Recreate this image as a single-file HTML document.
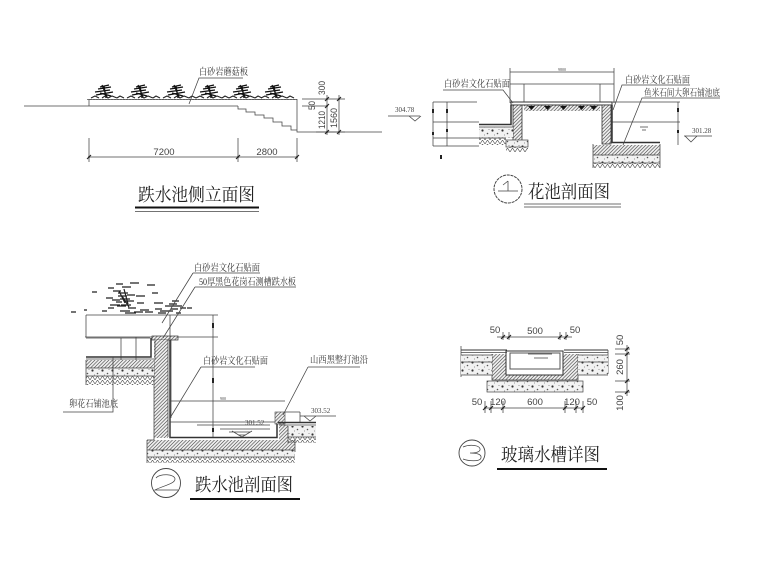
<!DOCTYPE html>
<html><head><meta charset="utf-8"><style>
html,body{margin:0;padding:0;background:#fff;width:760px;height:570px;overflow:hidden}
svg{display:block}
text{fill:#333;font-family:"Liberation Sans","Noto Sans CJK SC",sans-serif}
.l{font-family:"Liberation Serif","Noto Serif CJK SC",serif;font-size:9.5px;fill:#333}
.t{font-family:"Liberation Serif","Noto Serif CJK SC",serif;font-size:18px;fill:#222}
.d{font-size:9.5px;fill:#444}
.e{font-family:"Liberation Serif",serif;font-size:7px;fill:#444}
.g{fill:none;stroke:#444;stroke-width:.75}
.b{fill:none;stroke:#333;stroke-width:1.5}
</style></head><body>
<svg width="760" height="570" viewBox="0 0 760 570" xmlns="http://www.w3.org/2000/svg">
<defs>
<pattern id="h" width="3.5" height="3.5" patternUnits="userSpaceOnUse"><rect width="3.5" height="3.5" fill="#eee"/><path d="M-1 4.5L4.5-1M-1 1L1-1M2.5 4.5L4.5 2.5" stroke="#555" stroke-width=".65"/></pattern>
<pattern id="x" width="5" height="4" patternUnits="userSpaceOnUse"><path d="M0 4L2.5 0L5 4" fill="none" stroke="#555" stroke-width=".65"/></pattern>
<pattern id="c" width="10" height="8" patternUnits="userSpaceOnUse"><rect width="10" height="8" fill="#f2f2f2"/><circle cx="2.5" cy="2.5" r="1.1" fill="#333"/><circle cx="7.5" cy="5.5" r=".8" fill="#555"/><circle cx="9" cy="1.5" r=".5" fill="#777"/><circle cx="4.5" cy="7" r=".5" fill="#777"/></pattern>
<g id="p"><path d="M-7 -4L6 -6M-10 -1L5 -3M-5 -6L4 -8M-9 2L8 -1M-3 -8L2 4M-1 -7L1 5M-5 0L6 3" stroke="#111" stroke-width="1.3" fill="none"/><path d="M-14 5L-10 3L-6 5M3 5L7 3L12 5M12 5L15 3L19 5M-3 5L0 3L3 5" stroke="#222" stroke-width="1.1" fill="none"/><path d="M-18 6.5H22" stroke="#555" stroke-width=".7" stroke-dasharray="2 1"/></g>
<g id="k"><path d="M-2 2L2-2" stroke="#222" stroke-width="1.1"/><circle r=".9" fill="#222"/></g>
</defs>

<!-- side elevation -->
<path class="g" d="M24 106H238M89 99V106M89 99.5H297M297 99V132H382"/>
<path class="g" d="M238 106V109H246V112H255V115H264V118H273V122H282V126H291V130H297"/>
<use href="#p" x="105" y="93"/><use href="#p" x="141" y="93"/><use href="#p" x="177" y="93"/><use href="#p" x="210" y="93"/><use href="#p" x="243" y="93"/><use href="#p" x="275" y="93"/>
<path class="g" d="M189 104L199 78H243"/>
<text class="l" x="199" y="75" textLength="49" lengthAdjust="spacingAndGlyphs">白砂岩蘑菇板</text>
<path class="g" d="M89 138V162M238 138V162M297 138V162M89 157H297M302 99H345M302 106H327M327 95V135M339 95V135M316 132H345"/>
<use href="#k" x="89" y="157"/><use href="#k" x="238" y="157"/><use href="#k" x="297" y="157"/><use href="#k" x="327" y="99"/><use href="#k" x="327" y="106"/><use href="#k" x="327" y="132"/><use href="#k" x="339" y="99"/><use href="#k" x="339" y="132"/>
<text class="d" x="164" y="155" text-anchor="middle" font-size="10">7200</text><text class="d" x="267" y="155" text-anchor="middle" font-size="10">2800</text>
<text class="d" transform="translate(325,95) rotate(-90)" textLength="14" lengthAdjust="spacingAndGlyphs">300</text><text class="d" transform="translate(315,110) rotate(-90)" textLength="9" lengthAdjust="spacingAndGlyphs">50</text><text class="d" transform="translate(325,129) rotate(-90)" textLength="18" lengthAdjust="spacingAndGlyphs">1210</text><text class="d" transform="translate(337,128) rotate(-90)" textLength="20" lengthAdjust="spacingAndGlyphs">1560</text>
<text class="t" x="138" y="201" textLength="117" lengthAdjust="spacingAndGlyphs">跌水池侧立面图</text>
<path d="M135 207.5H259" stroke="#111" stroke-width="2"/><path d="M135 211.5H259" stroke="#444" stroke-width=".7"/>

<!-- flower pool section -->
<path class="g" d="M510 72H614M510 68V103M614 68V103M510 84H614M524 84V103M600 84V103"/>
<text x="562" y="71" class="e" text-anchor="middle" style="font-size:4px">9800</text>
<rect x="524" y="105" width="76" height="6" fill="url(#h)"/>
<path d="M528 106h7l-3.5 4zM544 106h7l-3.5 4zM560 106h7l-3.5 4zM578 106h7l-3.5 4zM590 106h7l-3.5 4z" fill="#111"/>
<rect x="511" y="102" width="101" height="3" fill="#fff" stroke="#333" stroke-width="1"/>
<rect x="513" y="105" width="9" height="36" fill="url(#h)" stroke="#333" stroke-width=".8"/>
<rect x="602" y="105" width="9" height="39" fill="url(#h)" stroke="#333" stroke-width=".8"/>
<rect x="506" y="140" width="22" height="7" fill="url(#c)" stroke="#444" stroke-width=".7"/>
<rect x="506" y="147" width="22" height="5" fill="url(#x)"/>
<path class="b" d="M479 124.5H511V105"/>
<rect x="479" y="127" width="34" height="11" fill="url(#c)"/><path class="g" d="M479 127H513M479 138H506"/>
<rect x="479" y="138" width="27" height="7" fill="url(#x)"/>
<path class="g" d="M433 102H477M433 122H479M433 138H479M433 146H479M433 102V146M447 102V146"/>
<rect x="432" y="109" width="2" height="4" fill="#222"/><rect x="446" y="109" width="2" height="4" fill="#222"/><rect x="432" y="132" width="2" height="3" fill="#222"/><rect x="446" y="129" width="2" height="3" fill="#222"/><rect x="440" y="155" width="2" height="4" fill="#222"/>
<path class="g" d="M388 116H420M409 116L415 121L421 116"/><text class="e" x="395" y="112">304.78</text>
<path class="g" d="M612 122H660M612 102H680M660 122H680M678 102V145M640 127H648M642 130H646"/>
<path class="b" d="M612 105V142.5H660"/>
<rect x="593" y="145" width="67" height="10" fill="url(#h)"/><rect x="593" y="155" width="67" height="8" fill="url(#c)"/><rect x="593" y="163" width="67" height="5" fill="url(#x)"/>
<path class="g" d="M593 144V168M660 144V168M593 155H660M593 163H660"/>
<rect x="677" y="108" width="2" height="4" fill="#222"/><rect x="677" y="130" width="2" height="3" fill="#222"/>
<path class="g" d="M684 136H712M685 136L691 142L697 136"/><text class="e" x="692" y="133">301.28</text>
<path class="g" d="M443 90H503L513 103"/><text class="l" x="444" y="87" textLength="66" lengthAdjust="spacingAndGlyphs">白砂岩文化石贴面</text>
<path class="g" d="M690 85H622L613 110"/><text class="l" x="625" y="83" textLength="65" lengthAdjust="spacingAndGlyphs">白砂岩文化石贴面</text>
<path class="g" d="M720 98H642L623 145"/><text class="l" x="644" y="96" textLength="76" lengthAdjust="spacingAndGlyphs">鱼米石间大卵石铺池底</text>
<circle cx="508" cy="189" r="14" fill="none" stroke="#444" stroke-dasharray="3 .8"/><path class="g" d="M498 191H518M508 181V191M508 181L503 185"/>
<text class="t" x="528" y="198" textLength="82" lengthAdjust="spacingAndGlyphs">花池剖面图</text>
<path class="g" d="M524 204H621M524 207H621"/>

<!-- pool section -->
<g stroke="#222" stroke-width="1.2" fill="none"><path d="M92 292h5M113 291h8M116 284h7M122 287h9M130 283h9M108 288h6M118 296h9M106 298h7M125 301h9M136 296h9M110 305h10M121 305h10M137 303h7M147 285h8M152 293h6M140 310h9M120 311h10M102 311h5M108 308h6M71 312h5M84 310h3M155 309h7M160 311h10M154 303h9M165 306h9M171 309h7M172 301h7M176 313h5M187 308h5M116 302h6M128 308h8M122 296l7 11M124 289l4 15M119 291l6 12M112 300h8M118 293h10M127 295h8M120 299h10M117 306h9M125 313h11M134 312h9M145 312h8M164 311h9M158 313h8M169 304h8M180 308h6M174 306h8"/></g>
<path class="g" d="M86 315H218M86 315V337M85 337H218M86 338H150M121 338V361M136 337V361"/>
<path class="b" d="M86 357H151V338"/>
<rect x="152" y="336" width="26" height="4" fill="url(#h)" stroke="#333" stroke-width=".7"/>
<path class="g" d="M170 315V340M171 340V418"/>
<rect x="154" y="340" width="14" height="98" fill="url(#h)"/><path class="g" d="M168 340V437M155 340V360M154 360V440"/>
<rect x="86" y="360" width="68" height="8" fill="url(#h)"/><rect x="86" y="368" width="68" height="8" fill="url(#c)"/><rect x="86" y="376" width="68" height="9" fill="url(#x)"/>
<path class="g" d="M86 359H154M86 368H154M86 376H154M86 385V360"/>
<path class="b" d="M170 340V437.5H277V420"/>
<path class="g" d="M170 401H285M170 422H277M170 367V438M213 315V437M197 425H270M220 429H270M229 432H250M238 435H246M232 431L242 437L252 431"/>
<rect x="212" y="323" width="2" height="5" fill="#222"/><rect x="212" y="378" width="2" height="5" fill="#222"/><rect x="212" y="428" width="2" height="4" fill="#222"/>
<rect x="275" y="412" width="10" height="12" fill="url(#h)" stroke="#444" stroke-width=".6"/>
<rect x="147" y="440" width="148" height="10" fill="url(#h)"/><rect x="147" y="450" width="148" height="7" fill="url(#c)"/><rect x="147" y="457" width="148" height="6" fill="url(#x)"/>
<path class="g" d="M147 440H154M147 440V463M295 440V452M147 450H295M147 457H295"/>
<path d="M278 422.5H316" stroke="#333" stroke-width="1.6"/>
<rect x="279" y="425" width="9" height="15" fill="url(#h)"/><rect x="288" y="426" width="28" height="11" fill="url(#c)"/><rect x="288" y="437" width="28" height="6" fill="url(#x)"/><path class="g" d="M279 425H316M288 437H316M288 426V443"/>
<path class="g" d="M285 412H300M300 412V422M300 416H336M304 416L310 421L316 416"/>
<text class="e" x="311" y="413">303.52</text><text class="e" x="245" y="425">301.52</text>
<text class="e" x="220" y="400" style="font-size:4px">900</text>
<path class="g" d="M193 273H260M193 273L162 323"/><text class="l" x="194" y="271" textLength="66" lengthAdjust="spacingAndGlyphs">白砂岩文化石贴面</text>
<path class="g" d="M195 287H296M195 287L163 338"/><text class="l" x="199" y="285" textLength="97" lengthAdjust="spacingAndGlyphs">50厚黑色花岗石测槽跌水板</text>
<path class="g" d="M201 367H255M201 367L170 418"/><text class="l" x="203" y="364" textLength="65" lengthAdjust="spacingAndGlyphs">白砂岩文化石贴面</text>
<path class="g" d="M308 367H360M308 367L283 415"/><text class="l" x="310" y="363" textLength="58" lengthAdjust="spacingAndGlyphs">山西黑整打池沿</text>
<path class="g" d="M63 412H113V357"/><text class="l" x="69" y="407" textLength="49" lengthAdjust="spacingAndGlyphs">卵花石铺池底</text>
<circle cx="166" cy="483" r="14.5" fill="none" stroke="#444" stroke-width=".9"/>
<path class="g" d="M156 478C160 473 175 474 175 479C175 484 162 486 155 490H178"/>
<text class="t" x="195" y="491" textLength="98" lengthAdjust="spacingAndGlyphs">跌水池剖面图</text>
<path d="M190 499H300" stroke="#111" stroke-width="2"/>

<!-- glass trough -->
<rect x="492" y="354" width="86" height="26" fill="url(#h)"/><path class="g" d="M492 354V380H578V354"/>
<rect x="506" y="351" width="57" height="24" fill="#fff" stroke="#333" stroke-width="1"/>
<rect x="510" y="353" width="50" height="16" fill="#fff" stroke="#555" stroke-width="1"/>
<path class="g" d="M528 354H552M534 358H548"/>
<path d="M461 350H507M564 350H608" stroke="#333" stroke-width="1.1"/><path class="g" d="M461 352.5H507M564 352.5H608M461 346V377M608 350V374"/>
<rect x="461" y="355" width="31" height="20" fill="url(#c)"/><rect x="578" y="355" width="30" height="20" fill="url(#c)"/>
<path class="g" d="M461 362H492M578 362H608M461 375H492M578 375H608M461 355H492M578 355H608"/>
<rect x="487" y="381" width="96" height="11" fill="url(#c)" stroke="#444" stroke-width=".7"/>
<path class="g" d="M503 332V340M509 332V340M560 332V340M566 332V340M497 337H572M485 401V413M491 401V413M503 401V413M565 401V413M576 401V413M583 401V413M485 408H583M615 349H630M615 354H630M615 381H630M615 392H630M627 345V396"/>
<use href="#k" x="503" y="337"/><use href="#k" x="509" y="337"/><use href="#k" x="560" y="337"/><use href="#k" x="566" y="337"/>
<use href="#k" x="485" y="408"/><use href="#k" x="491" y="408"/><use href="#k" x="503" y="408"/><use href="#k" x="565" y="408"/><use href="#k" x="576" y="408"/><use href="#k" x="583" y="408"/>
<use href="#k" x="627" y="349"/><use href="#k" x="627" y="354"/><use href="#k" x="627" y="381"/><use href="#k" x="627" y="392"/>
<g text-anchor="middle"><text class="d" x="495" y="333">50</text><text class="d" x="535" y="334">500</text><text class="d" x="575" y="333">50</text><text class="d" x="477" y="405">50</text><text class="d" x="498" y="405">120</text><text class="d" x="535" y="405">600</text><text class="d" x="572" y="405">120</text><text class="d" x="592" y="405">50</text>
<text class="d" transform="translate(623,340) rotate(-90)">50</text><text class="d" transform="translate(623,367) rotate(-90)">260</text><text class="d" transform="translate(623,403) rotate(-90)">100</text></g>
<circle cx="472" cy="453" r="13" fill="none" stroke="#444" stroke-width=".9"/>
<path class="g" d="M463 447C470 444 481 445 480 450C479 453 472 453 470 453C476 453 482 454 481 458C480 462 468 461 463 459"/>
<text class="t" x="501" y="461" textLength="99" lengthAdjust="spacingAndGlyphs">玻璃水槽详图</text>
<path d="M497 469H607" stroke="#111" stroke-width="2"/>
</svg>
</body></html>
